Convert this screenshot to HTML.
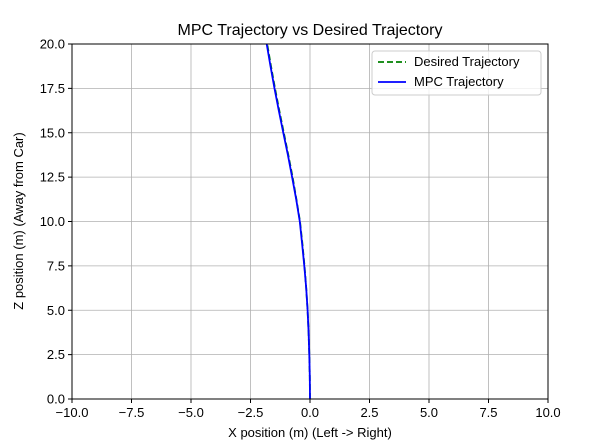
<!DOCTYPE html>
<html><head><meta charset="utf-8"><style>
html,body{margin:0;padding:0;background:#fff;}
svg text{font-family:"Liberation Sans","DejaVu Sans",sans-serif;fill:#000;}
</style></head><body>
<svg id="chart" width="600" height="442" viewBox="0 0 600 442">
<text x="310" y="35" font-size="16" text-anchor="middle">MPC Trajectory vs Desired Trajectory</text>
<g id="grid"></g>
<g id="ticks"></g>
<g id="series"></g>
<rect x="72" y="44" width="476" height="355" fill="none" stroke="#000" stroke-width="1"/>
<text x="310" y="437" font-size="13" text-anchor="middle">X position (m) (Left -&gt; Right)</text>
<text transform="translate(23,221) rotate(-90)" font-size="13" text-anchor="middle">Z position (m) (Away from Car)</text>
<g>
<rect x="372" y="51" width="169" height="44" rx="3" fill="#fff" fill-opacity="0.8" stroke="#ccc"/>
<line x1="378" y1="62" x2="406" y2="62" stroke="#008000" stroke-width="1.8" stroke-dasharray="6,3"/>
<text x="414" y="66" font-size="13">Desired Trajectory</text>
<line x1="378" y1="82" x2="406" y2="82" stroke="#0000ff" stroke-width="1.8"/>
<text x="414" y="86" font-size="13">MPC Trajectory</text>
</g>
</svg>
<script>
const xTicks=[-10,-7.5,-5,-2.5,0,2.5,5,7.5,10];
const yTicks=[0,2.5,5,7.5,10,12.5,15,17.5,20];
const zVals=[0,1.25,2.5,3.75,5,6.25,7.5,8.75,10,11.25,12.5,13.75,15,16.25,17.5,18.75,20];
const desiredX=[0,-0.01,-0.03,-0.06,-0.1,-0.16,-0.23,-0.32,-0.42,-0.57,-0.73,-0.91,-1.1,-1.29,-1.47,-1.64,-1.8];
const mpcX=[0,-0.01,-0.03,-0.06,-0.1,-0.16,-0.24,-0.33,-0.43,-0.58,-0.75,-0.93,-1.12,-1.31,-1.49,-1.66,-1.82];
const L=72,R=548,T=44,B=399;
const sx=v=>L+(v+10)/20*(R-L);
const sy=v=>B-v/20*(B-T);
const NS='http://www.w3.org/2000/svg';
const grid=document.getElementById('grid'),ticks=document.getElementById('ticks'),series=document.getElementById('series');
function mk(tag,attrs,parent){const e=document.createElementNS(NS,tag);for(const k in attrs)e.setAttribute(k,attrs[k]);parent.appendChild(e);return e;}
xTicks.forEach(v=>{
 const g=mk('line',{x1:sx(v),x2:sx(v),y1:T,y2:B,stroke:'#b0b0b0','stroke-width':0.8},grid);
 
 
 const t=mk('line',{x1:sx(v),x2:sx(v),y1:B,y2:B+4,stroke:'#000'},ticks);
 
 
 const l=mk('text',{x:sx(v),y:B+18,'font-size':13,'text-anchor':'middle'},ticks);
 l.textContent=(v<0?'\u2212':'')+Math.abs(v).toFixed(1);
 
 
});
yTicks.forEach(v=>{
 const g=mk('line',{x1:L,x2:R,y1:sy(v),y2:sy(v),stroke:'#b0b0b0','stroke-width':0.8},grid);
 
 
 const t=mk('line',{x1:L-4,x2:L,y1:sy(v),y2:sy(v),stroke:'#000'},ticks);
 
 
 const l=mk('text',{x:L-7,y:sy(v)+4.5,'font-size':13,'text-anchor':'end'},ticks);
 l.textContent=v.toFixed(1);
 
 
});
function path(xs){return xs.map((x,i)=>(i?'L':'M')+sx(x).toFixed(1)+','+sy(zVals[i]).toFixed(1)).join(' ');}
const d=mk('path',{d:path(desiredX),fill:'none',stroke:'#008000','stroke-width':1.8,'stroke-dasharray':'6,3','stroke-linejoin':'round'},series);


const m=mk('path',{d:path(mpcX),fill:'none',stroke:'#0000ff','stroke-width':1.8,'stroke-linejoin':'round'},series);


</script>
</body></html>
